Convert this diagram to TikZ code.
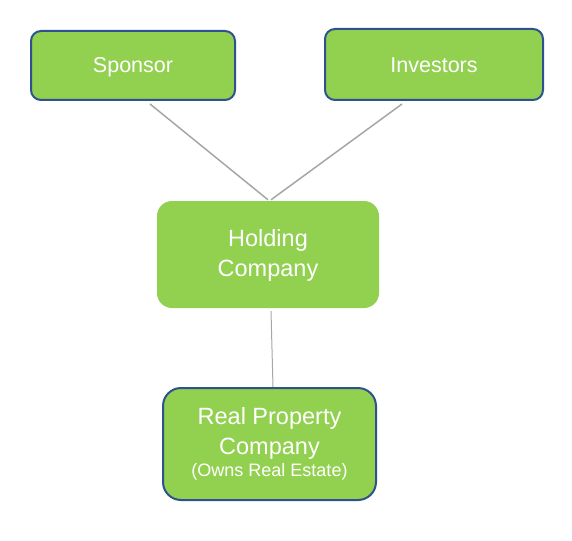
\documentclass[tikz,border=0pt]{standalone}
\usepackage{fontspec}
\setmainfont{Liberation Sans}
\definecolor{boxgreen}{HTML}{92D050}
\definecolor{boxblue}{HTML}{2F528F}
\definecolor{linegray}{HTML}{A6A6A6}
\begin{document}
\begin{tikzpicture}[x=1pt,y=-1pt,
  box/.style={fill=boxgreen,text=white,align=center,inner sep=0pt},
  bluebox/.style={box,draw=boxblue,line width=2pt},
  link/.style={draw=linegray,line width=1.5pt}]
\useasboundingbox (0,0) rectangle (572,540);
\node[bluebox,rounded corners=10pt,minimum width=204pt,minimum height=69pt,
  font=\fontsize{21.5}{26}\selectfont] (spon) at (133,65.5) {\raisebox{-1.5pt}[\height][\depth]{Sponsor}};
\node[bluebox,rounded corners=10pt,minimum width=218pt,minimum height=71pt,
  font=\fontsize{21.5}{26}\selectfont] (inv) at (434,64.5) {\raisebox{-0.5pt}[\height][\depth]{Investors}};
\node[box,rounded corners=15pt,minimum width=222pt,minimum height=107pt,
  font=\fontsize{23.5}{30}\selectfont] (hold) at (268,254.5) {\raisebox{-1pt}[\height][\depth]{Holding}\\\raisebox{-1pt}[\height][\depth]{Company}};
\node[bluebox,rounded corners=18pt,minimum width=213pt,minimum height=112pt,
  font=\fontsize{23.5}{30}\selectfont] (rp) at (269.5,444) {Real Property\\Company\\[-8pt]{\fontsize{18}{22}\selectfont (Owns Real Estate)}};
\coordinate (s1) at ([xshift=17pt,yshift=-3pt]spon.south);
\coordinate (i1) at ([xshift=-32pt,yshift=-3pt]inv.south);
\coordinate (h1) at ([xshift=0pt,yshift=1pt]hold.north);
\coordinate (h2) at ([xshift=3pt,yshift=1pt]hold.north);
\coordinate (h3) at ([xshift=3pt,yshift=-3pt]hold.south);
\coordinate (r1) at ([xshift=3.5pt]rp.north);
\draw[link] (s1) -- (h1);
\draw[link] (i1) -- (h2);
\draw[link,line width=1pt] (h3) -- (r1);
\end{tikzpicture}
\end{document}
